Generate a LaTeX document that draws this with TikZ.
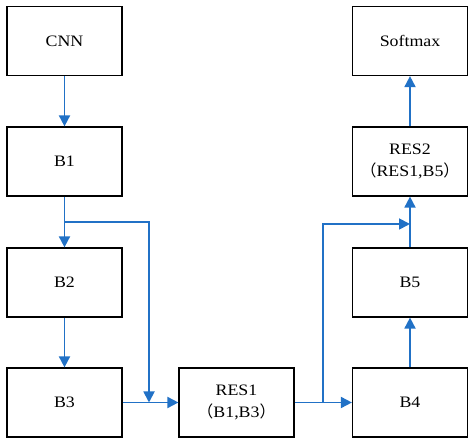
\documentclass[tikz,border=0pt]{standalone}
\usepackage{fontspec}
\setmainfont{Liberation Serif}[FakeStretch=1.12]
\newfontfamily\cjk{Noto Sans CJK SC}
\usetikzlibrary{arrows.meta}
\definecolor{flowblue}{RGB}{33,113,198}
\tikzstyle{block}=[draw, line width=1.2bp, minimum width=115bp, minimum height=69bp, inner sep=0pt, align=center, font=\fontsize{16}{22}\selectfont]
\tikzstyle{flow}=[draw=flowblue, line width=1.8bp, -{Triangle[width=11bp, length=11bp]}]

\begin{document}
\begin{tikzpicture}[x=1bp, y=1bp]
    \useasboundingbox (0, 0) rectangle (474, 443);
    \node[block] (cnn) at (64.5, 402) {CNN};
    \node[block] (b1) at (64.5, 281.5) {B1};
    \node[block] (b2) at (64.5, 160.5) {B2};
    \node[block] (b3) at (64.5, 40.5) {B3};
    \node[block] (res1) at (236.5, 40.5) {RES1\\{\cjk （}B1,B3{\cjk ）}};
    \node[block] (b4) at (410, 40.5) {B4};
    \node[block] (b5) at (410, 160.5) {B5};
    \node[block] (res2) at (410, 281.5) {RES2\\{\cjk （}RES1,B5{\cjk ）}};
    \node[block] (softmax) at (410, 402) {Softmax};
    \coordinate (skip1) at (64.5, 221);
    \coordinate (skip1turn) at (149, 221);
    \coordinate (join1) at (149, 40.5);
    \coordinate (skip2) at (323, 40.5);
    \coordinate (skip2turn) at (323, 219);
    \coordinate (join2) at (410, 219);
    \draw[flow] (cnn.south) -- (b1.north);
    \draw[flow] (b1.south) -- (b2.north);
    \draw[flow] (b2.south) -- (b3.north);
    \draw[flow] (b3.east) -- (res1.west);
    \draw[flow] (res1.east) -- (b4.west);
    \draw[flow] (b4.north) -- (b5.south);
    \draw[flow] (b5.north) -- (res2.south);
    \draw[flow] (res2.north) -- (softmax.south);
    \draw[flow] (skip1) -- (skip1turn) -- (join1);
    \draw[flow] (skip2) -- (skip2turn) -- (join2);
\end{tikzpicture}
\end{document}
